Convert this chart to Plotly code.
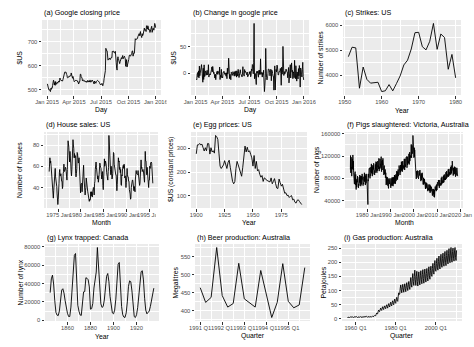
import numpy as np
import pandas as pd
import plotly.graph_objects as go

# ---------------- data ----------------
# (a) Google daily closing price, 2015 (trading days)
goog_close = [
    524.8, 513.9, 501.9, 501.1, 502.7, 496.2, 500.9, 492.6, 506.2, 501.8, 508.1, 506.9, 518.0, 534.4, 539.9, 536.7, 520.3, 529.9, 518.6, 534.5,
    528.5, 523.1, 527.8, 531.0, 527.8, 531.0, 536.8, 534.0, 532.8, 549.0, 542.2, 539.7, 539.0, 536.1, 535.2, 536.6, 543.4, 555.5, 558.4,
    571.3, 573.6, 573.4, 575.3, 573.6, 565.0, 563.4, 551.7, 549.3, 550.8, 554.5, 552.8, 557.4, 558.7, 560.4, 558.3, 570.2, 558.8, 555.2, 548.3, 555.9, 548.0,
    541.7, 533.4, 535.5, 537.4, 541.4, 540.8, 539.0, 540.0, 538.1, 532.8, 533.9, 524.1, 533.8, 532.5, 536.8, 565.1, 565.1, 555.4, 553.7, 549.1, 537.3,
    540.0, 541.7, 538.0, 534.9, 538.2, 535.7, 537.1, 532.0, 535.4, 531.2, 534.2, 539.0, 532.1, 536.7, 537.4, 532.3, 539.8, 539.8, 532.1, 532.1,
    533.9, 540.7, 540.3, 536.7, 533.3, 526.8, 524.2, 536.7, 534.6, 532.3, 527.2, 534.4, 536.7, 540.5, 539.2, 537.8, 535.2, 537.8, 531.4, 526.0, 523.5, 520.5,
    523.4, 522.9, 526.8, 520.5, 516.8, 525.0, 530.1, 546.6, 561.1, 560.2, 579.9, 672.9, 663.0, 662.3, 662.1, 644.3, 623.6, 627.3, 628.0, 631.9, 632.6,
    625.6, 631.2, 629.2, 635.3, 633.7, 660.8, 659.0, 660.8, 661.4, 654.6, 656.1, 654.3, 660.2, 646.3, 612.5, 590.0, 582.1, 628.6, 637.6, 630.4, 618.3,
    612.5, 609.1, 617.0, 624.8, 632.3, 633.8, 629.2, 635.1, 642.9, 629.3, 635.4, 639.7, 640.0, 634.3, 628.9, 597.8, 611.8, 625.8, 594.9, 601.0, 608.4,
    611.3, 626.9, 641.5, 645.4, 642.4, 639.9, 643.6, 646.7, 652.3, 661.7, 662.2, 640.2, 651.8, 650.3, 651.8, 702.0, 712.8, 709.0, 712.4, 711.1, 710.8, 713.0,
    721.1, 728.0, 731.3, 733.8, 725.7, 731.6, 742.6, 725.0, 724.0, 717.6, 733.8, 725.3, 728.7, 748.2, 751.4, 757.1, 747.3, 750.3, 750.5, 742.6,
    767.0, 762.4, 752.5, 766.8, 763.3, 749.0, 751.7, 749.2, 738.9, 747.8, 743.4, 758.1, 764.7, 739.3, 749.4, 756.6, 755.0, 748.4, 756.0, 776.6, 771.0, 758.9,
]

# (c) US strikes, annual
strikes_year = list(range(1951, 1981))
strikes = [4737, 5117, 5091, 3468, 4320, 3825, 3673, 3694, 3708, 3333,
           3367, 3614, 3362, 3655, 3963, 4405, 4595, 5045, 5700, 5716,
           5138, 5010, 5353, 6074, 5031, 5648, 5506, 4230, 4827, 3885]

# (d) US house sales, monthly from Jan 1973
hsales = [
    55, 60, 68, 63, 65, 61, 54, 52, 46, 42, 37, 30,
    37, 44, 55, 53, 58, 50, 48, 45, 41, 34, 30, 24,
    29, 34, 44, 54, 57, 51, 51, 53, 46, 46, 46, 39,
    41, 53, 55, 62, 55, 56, 57, 59, 58, 55, 49, 47,
    57, 68, 84, 81, 78, 74, 64, 74, 71, 63, 55, 51,
    57, 63, 75, 85, 80, 77, 68, 72, 68, 70, 53, 50,
    53, 58, 73, 72, 68, 63, 64, 68, 60, 54, 41, 35,
    43, 44, 44, 36, 44, 50, 55, 61, 50, 46, 39, 33,
    37, 40, 49, 44, 45, 38, 36, 34, 28, 29, 27, 29,
    28, 29, 36, 32, 36, 34, 31, 36, 39, 40, 39, 33,
    44, 46, 57, 59, 64, 59, 51, 50, 48, 51, 45, 48,
    52, 58, 63, 61, 59, 58, 52, 48, 53, 55, 42, 38,
    48, 55, 67, 60, 65, 65, 63, 61, 54, 52, 51, 47,
    55, 59, 89, 84, 75, 66, 57, 52, 60, 54, 48, 49,
    53, 59, 73, 72, 62, 58, 55, 56, 52, 52, 43, 37,
    43, 55, 68, 68, 64, 65, 57, 59, 54, 57, 43, 42,
    52, 51, 58, 60, 61, 58, 62, 61, 49, 51, 47, 40,
    45, 50, 58, 52, 50, 50, 46, 46, 38, 37, 34, 29,
    30, 40, 46, 46, 47, 47, 43, 46, 37, 41, 39, 36,
    48, 55, 56, 53, 52, 53, 52, 56, 51, 48, 42, 42,
    44, 50, 60, 66, 58, 59, 55, 57, 57, 56, 53, 51,
    45, 58, 74, 65, 65, 55, 52, 59, 54, 57, 45, 40,
    47, 47, 60, 58, 63, 64, 64, 63, 55, 54, 44,
]

# (e) US egg prices (constant prices), annual
eggs_year = list(range(1900, 1994))
eggs = [277, 315, 315, 321, 315, 318, 303, 289, 303, 290,
        321, 320, 276, 303, 285, 290, 280, 355, 350, 338,
        280, 225, 215, 222, 230, 248, 230, 215, 240, 250,
        220, 185, 160, 150, 160, 215, 245, 230, 215, 190,
        182, 220, 270, 310, 285, 305, 285, 290, 275, 260,
        225, 270, 215, 245, 205, 210, 190, 178, 185, 160,
        175, 172, 165, 162, 160, 158, 175, 150, 160, 172,
        150, 132, 130, 170, 155, 140, 148, 125, 110, 112,
        100, 102, 92, 97, 100, 82, 85, 72, 68, 80,
        82, 75, 66, 62]

# (f) Pigs slaughtered in Victoria (thousands), monthly from Jul 1972
pigs_thousands = [
    96, 121, 90, 112, 118, 98,
    100, 84, 108, 94, 115, 97, 103, 122, 104, 95, 111, 90,
    82, 76, 90, 70, 86, 74, 80, 92, 68, 83, 87, 66,
    60, 70, 76, 64, 79, 71, 73, 84, 67, 76, 80, 69,
    63, 70, 79, 67, 82, 73, 76, 86, 71, 79, 84, 70,
    66, 73, 82, 69, 84, 75, 78, 88, 73, 81, 86, 71,
    67, 72, 82, 70, 83, 76, 79, 90, 74, 82, 88, 72,
    68, 74, 85, 71, 84, 76, 77, 88, 72, 80, 86, 70,
    66, 33, 78, 75, 88, 82, 86, 97, 84, 91, 99, 82,
    80, 87, 98, 85, 100, 91, 95, 106, 89, 98, 104, 87,
    84, 91, 101, 87, 103, 93, 96, 107, 90, 99, 107, 89,
    86, 94, 104, 90, 105, 96, 98, 110, 93, 102, 109, 91,
    90, 97, 108, 94, 111, 100, 103, 113, 97, 106, 116, 95,
    93, 101, 112, 97, 115, 103, 106, 118, 99, 108, 119, 97,
    92, 99, 111, 95, 113, 102, 104, 116, 96, 104, 113, 93,
    86, 91, 103, 88, 99, 92, 88, 96, 81, 86, 90, 77,
    68, 73, 83, 70, 80, 74, 72, 82, 67, 74, 80, 65,
    62, 68, 78, 66, 76, 70, 70, 80, 65, 72, 78, 64,
    63, 70, 80, 67, 78, 72, 72, 82, 67, 74, 81, 67,
    66, 72, 82, 70, 80, 75, 76, 86, 71, 78, 84, 70,
    71, 77, 87, 75, 85, 80, 82, 93, 78, 85, 92, 78,
    80, 86, 96, 84, 95, 90, 92, 103, 88, 95, 102, 87,
    86, 93, 104, 91, 103, 97, 99, 110, 94, 102, 109, 94,
    92, 99, 111, 96, 109, 102, 103, 114, 98, 107, 115, 99,
    95, 103, 115, 100, 113, 106, 107, 118, 102, 110, 119, 103,
    99, 106, 119, 104, 117, 110, 111, 123, 107, 115, 124, 107,
    105, 113, 127, 111, 125, 119, 121, 135, 117, 127, 141, 121,
    117, 125, 139, 124, 139, 131, 129, 157, 127, 137, 147, 125,
    117, 123, 135, 119, 131, 123, 114, 119, 99, 95, 97, 85,
    79, 83, 93, 81, 91, 85, 85, 94, 81, 87, 93, 81,
    79, 84, 93, 81, 91, 86, 85, 95, 81, 87, 92, 79,
    75, 81, 89, 77, 87, 81, 81, 90, 77, 83, 89, 76,
    69, 73, 81, 69, 79, 73, 71, 79, 67, 71, 77, 65,
    61, 65, 73, 62, 71, 65, 64, 71, 59, 65, 70, 59,
    57, 61, 69, 59, 67, 62, 61, 69, 57, 63, 69, 57,
    54, 59, 67, 56, 63, 59, 57, 65, 53, 59, 63, 51,
    49, 53, 61, 51, 57, 54, 53, 61, 47, 55, 59, 46,
    51, 57, 65, 55, 63, 59, 59, 67, 57, 63, 69, 59,
    59, 63, 73, 63, 71, 67, 67, 77, 65, 71, 77, 65,
    63, 69, 77, 67, 75, 71, 71, 79, 67, 74, 81, 69,
    69, 73, 83, 71, 81, 76, 76, 85, 72, 79, 85, 73,
    73, 79, 87, 77, 85, 81, 81, 91, 77, 84, 91, 79,
    79, 84, 93, 81, 91, 87, 87, 96, 83, 89, 96, 84,
    83, 88, 97, 85, 95, 91, 91, 99, 87, 93, 100, 87,
    87, 93, 103, 89, 99, 94, 95, 111, 89, 96, 103, 89,
    85, 91, 99, 87, 97, 92, 93, 101, 88, 94, 100, 87,
    83, 89, 98, 85, 95, 90, 91, 99, 86, 92, 97, 84,
]

# (g) Lynx pelts traded, Canada, annual
lynx_year = list(range(1845, 1936))
lynx = [30090, 45150, 49150, 39520, 21230, 8420, 5560, 5080, 10170, 19600,
        32910, 34380, 29590, 21300, 13690, 7650, 4080, 4090, 14330, 38220,
        60780, 70770, 72770, 42680, 16390, 9830, 5800, 5260, 18910, 30950,
        31180, 46340, 45770, 44150, 36330, 12030, 12600, 18340, 35140, 43190,
        52570, 79350, 58000, 35000, 18000, 14000, 15000, 22000, 36000, 48000,
        51000, 42000, 26000, 13000, 8000, 7000, 11000, 23000, 43000, 61000,
        63000, 38000, 15000, 6000, 3500, 3000, 8000, 20000, 37000, 43000,
        42000, 32000, 14000, 4000, 3000, 6000, 14000, 27000, 42000, 53000,
        54000, 44000, 24000, 11000, 7000, 8000, 10000, 15000, 23000, 30000,
        35000]

# (h) Australian beer production, quarterly from 1991 Q1
beer = [464, 423, 437, 576,
        442, 410, 420, 532,
        433, 421, 410, 512,
        449, 381, 423, 531,
        426, 408, 416, 520]

# (i) Australian gas production, quarterly from 1956 Q1
gas = [5, 6, 7, 6, 5, 7, 7, 6, 5, 7, 7, 6, 5, 7, 7, 6,
       5, 7, 8, 6, 5, 7, 8, 6, 6, 7, 8, 6, 6, 7, 8, 7,
       6, 8, 8, 7, 6, 8, 9, 7, 6, 8, 9, 7, 7, 8, 9, 8,
       7, 9, 10, 8, 8, 10, 12, 11, 11, 16, 21, 18, 18, 26, 31, 26,
       26, 33, 38, 32, 30, 38, 43, 36, 33, 42, 46, 40, 36, 45, 50, 43,
       38, 49, 54, 46, 42, 53, 59, 50, 46, 58, 64, 54, 50, 62, 70, 58,
       55, 70, 76, 64, 62, 80, 92, 86, 88, 108, 120, 104, 92, 110, 122, 106,
       94, 112, 124, 108, 96, 116, 128, 110, 100, 120, 132, 114, 104, 130, 146, 120,
       112, 142, 160, 132, 118, 150, 172, 138, 118, 150, 168, 132, 116, 148, 166, 134,
       120, 152, 170, 138, 124, 156, 174, 142, 126, 158, 176, 144, 130, 160, 178, 146,
       134, 166, 184, 152, 140, 170, 186, 156, 150, 178, 196, 164, 158, 188, 206, 172,
       168, 196, 214, 180, 172, 202, 222, 186, 176, 208, 228, 190, 182, 214, 232, 196,
       186, 220, 238, 200, 188, 224, 242, 204, 194, 230, 248, 208, 198, 236, 252, 212,
       200, 238, 250, 214, 204, 240, 252, 216, 206, 242]

# ---------------- derived index / values ----------------
goog_dates = pd.date_range("2015-01-02", "2015-12-31", periods=len(goog_close))
goog_change = np.diff(goog_close)
hsales_month = pd.date_range("1973-01-01", periods=len(hsales), freq="MS")
pigs_month = pd.date_range("1972-07-01", periods=len(pigs_thousands), freq="MS")
pigs = np.array(pigs_thousands) * 1000
beer_q = pd.date_range("1991-01-01", periods=len(beer), freq="QS")
gas_q = pd.date_range("1956-01-01", periods=len(gas), freq="QS")

# ---------------- layout helpers ----------------
W, H = 474, 347
FONT = "Liberation Sans, Arial, sans-serif"
PANEL_BG = "#EBEBEB"
TICK_COL = "#4D4D4D"


def expand(values):
    lo, hi = min(values), max(values)
    d = hi - lo
    return [lo - 0.05 * d, hi + 0.05 * d]


def expand_dates(dates):
    lo, hi = pd.Timestamp(min(dates)), pd.Timestamp(max(dates))
    d = hi - lo
    return [str(lo - 0.05 * d), str(hi + 0.05 * d)]


def midpoints(ticks):
    ts = [pd.Timestamp(t) for t in ticks]
    return [str(a + (b - a) / 2) for a, b in zip(ts[:-1], ts[1:])]


panels = [
    dict(title="(a) Google closing price", x=goog_dates, y=goog_close,
         xr=expand_dates(goog_dates),
         xt=["2015-01-01", "2015-04-01", "2015-07-01", "2015-10-01", "2016-01-01"],
         xtt=["Jan 2015", "Apr 2015", "Jul 2015", "Oct 2015", "Jan 2016"],
         xm=None, yt=[500, 600, 700], ym=[550, 650, 750],
         xlab="Day", ylab="$US", rect=(42, 161, 20, 95), ylx=19),
    dict(title="(b) Change in google price", x=goog_dates[1:], y=goog_change,
         xr=expand_dates(goog_dates[1:]),
         xt=["2015-01-01", "2015-04-01", "2015-07-01", "2015-10-01", "2016-01-01"],
         xtt=["Jan 2015", "Apr 2015", "Jul 2015", "Oct 2015", "Jan 2016"],
         xm=None, yt=[0, 50], ym=[-25, 25, 75],
         xlab="Day", ylab="$US", rect=(191, 309, 20, 95), ylx=173),
    dict(title="(c) Strikes: US", x=strikes_year, y=strikes,
         xr=expand(strikes_year), xt=[1950, 1960, 1970, 1980],
         xtt=["1950", "1960", "1970", "1980"], xm=[1955, 1965, 1975],
         yt=[4000, 5000, 6000], ym=[3500, 4500, 5500],
         xlab="Year", ylab="Number of strikes", rect=(343, 461, 20, 95), ylx=320),
    dict(title="(d) House sales: US", x=hsales_month, y=hsales,
         xr=expand_dates(hsales_month),
         xt=["1975-01-01", "1980-01-01", "1985-01-01", "1990-01-01", "1995-01-01"],
         xtt=["1975 Jan", "1980 Jan", "1985 Jan", "1990 Jan", "1995 Jan"],
         xm=["1972-07-01", "1977-07-01", "1982-07-01", "1987-07-01", "1992-07-01"],
         yt=[40, 60, 80], ym=[30, 50, 70, 90],
         xlab="Month", ylab="Number of houses", rect=(44, 158, 132, 208), ylx=20),
    dict(title="(e) Egg prices: US", x=eggs_year, y=eggs,
         xr=expand(eggs_year), xt=[1900, 1925, 1950, 1975],
         xtt=["1900", "1925", "1950", "1975"], xm=[1912.5, 1937.5, 1962.5, 1987.5],
         yt=[100, 200, 300], ym=[50, 150, 250, 350],
         xlab="Year", ylab="$US (constant prices)", rect=(191, 307, 132, 208), ylx=171),
    dict(title="(f) Pigs slaughtered: Victoria, Australia", x=pigs_month, y=pigs,
         xr=expand_dates(pigs_month),
         xt=["1980-01-01", "1990-01-01", "2000-01-01", "2010-01-01", "2020-01-01"],
         xtt=["1980 Jan", "1990 Jan", "2000 Jan", "2010 Jan", "2020 Jan"],
         xm=["1975-01-01", "1985-01-01", "1995-01-01", "2005-01-01", "2015-01-01"],
         yt=[40000, 80000, 120000, 160000], ym=[60000, 100000, 140000],
         xlab="Month", ylab="Number of pigs", rect=(345, 463, 132, 208), ylx=317),
    dict(title="(g) Lynx trapped: Canada", x=lynx_year, y=lynx,
         xr=expand(lynx_year), xt=[1860, 1880, 1900, 1920],
         xtt=["1860", "1880", "1900", "1920"], xm=[1850, 1870, 1890, 1910, 1930],
         yt=[0, 20000, 40000, 60000, 80000], ym=[10000, 30000, 50000, 70000],
         xlab="Year", ylab="Number of lynx", rect=(45, 159, 244, 321), ylx=20),
    dict(title="(h) Beer production: Australia", x=beer_q, y=beer,
         xr=expand_dates(beer_q),
         xt=["1991-01-01", "1992-01-01", "1993-01-01", "1994-01-01", "1995-01-01"],
         xtt=["1991 Q1", "1992 Q1", "1993 Q1", "1994 Q1", "1995 Q1"],
         xm=["1991-07-02", "1992-07-02", "1993-07-02", "1994-07-02", "1995-07-02"],
         yt=[400, 450, 500, 550], ym=[375, 425, 475, 525, 575],
         xlab="Quarter", ylab="Megalitres", rect=(195, 310, 244, 321), ylx=175),
    dict(title="(i) Gas production: Australia", x=gas_q, y=gas,
         xr=expand_dates(gas_q),
         xt=["1960-01-01", "1980-01-01", "2000-01-01"],
         xtt=["1960 Q1", "1980 Q1", "2000 Q1"],
         xm=["1970-01-01", "1990-01-01", "2010-01-01"],
         yt=[0, 50, 100, 150, 200, 250], ym=[25, 75, 125, 175, 225],
         xlab="Quarter", ylab="Petajoules", rect=(342, 462, 244, 321), ylx=323),
]

# rows: (title y, x-axis-title y) in pixels
row_text_y = {20: (13, 110.5), 132: (124, 222.5), 244: (237, 336)}

# each sub-plot's cell cuts off tick labels that run past its right edge
cell_clips = [  # (x from, x to, y from, y to) in pixels
    (166.5, 171, 96, 105),
    (316, 322, 96, 105),
    (155.8, 162, 210.5, 218),
]

fig = go.Figure()
annotations = []
shapes = []
layout = dict(
    template="none",
    width=W, height=H,
    margin=dict(l=0, r=0, t=0, b=0),
    paper_bgcolor="white", plot_bgcolor=PANEL_BG,
    showlegend=False,
    font=dict(family=FONT, color="#000000"),
)

for i, p in enumerate(panels, start=1):
    sfx = "" if i == 1 else str(i)
    l, r, t, b = p["rect"]
    fig.add_trace(go.Scatter(
        x=p["x"], y=p["y"], mode="lines",
        line=dict(color="black", width=0.9),
        xaxis="x" + sfx, yaxis="y" + sfx, hoverinfo="skip",
    ))
    xm = p["xm"] if p["xm"] is not None else midpoints(p["xt"])
    common = dict(
        showgrid=True, gridcolor="white", gridwidth=1.0,
        zeroline=False, showline=False,
        ticks="outside", ticklen=2.5, tickwidth=0.7, tickcolor="#333333",
        tickfont=dict(family=FONT, size=5.8, color=TICK_COL),
        tickmode="array", tickangle=0, fixedrange=True,
    )
    layout["xaxis" + sfx] = dict(
        common, domain=[l / W, r / W], anchor="y" + sfx, range=p["xr"],
        tickvals=p["xt"], ticktext=p["xtt"], ticklabelstandoff=-1,
        minor=dict(tickmode="array", tickvals=xm, showgrid=True,
                   gridcolor="white", gridwidth=0.5, ticks=""),
    )
    yr = expand(list(p["y"]))
    layout["yaxis" + sfx] = dict(
        common, domain=[1 - b / H, 1 - t / H], anchor="x" + sfx, range=yr,
        tickvals=p["yt"], ticktext=[str(v) for v in p["yt"]],
        minor=dict(tickmode="array", tickvals=p["ym"], showgrid=True,
                   gridcolor="white", gridwidth=0.5, ticks=""),
    )
    ty, xty = row_text_y[t]
    # panel title
    annotations.append(dict(
        text=p["title"], x=l / W, y=1 - ty / H, xref="paper", yref="paper",
        xanchor="left", yanchor="middle", showarrow=False,
        font=dict(family=FONT, size=7.2, color="#000000"),
    ))
    # x-axis title
    annotations.append(dict(
        text=p["xlab"], x=(l + r) / 2 / W, y=1 - xty / H, xref="paper", yref="paper",
        xanchor="center", yanchor="middle", showarrow=False,
        font=dict(family=FONT, size=6.8, color="#000000"),
    ))
    # y-axis title
    annotations.append(dict(
        text=p["ylab"], x=p["ylx"] / W, y=1 - (t + b) / 2 / H, xref="paper", yref="paper",
        xanchor="center", yanchor="middle", showarrow=False, textangle=-90,
        font=dict(family=FONT, size=6.8, color="#000000"),
    ))

for x0, x1, y0, y1 in cell_clips:
    shapes.append(dict(
        type="rect", xref="paper", yref="paper", layer="above",
        x0=x0 / W, x1=x1 / W, y0=1 - y1 / H, y1=1 - y0 / H,
        fillcolor="white", line=dict(width=0),
    ))

layout["annotations"] = annotations
layout["shapes"] = shapes
fig.update_layout(**layout)
fig.write_html("out.html")
